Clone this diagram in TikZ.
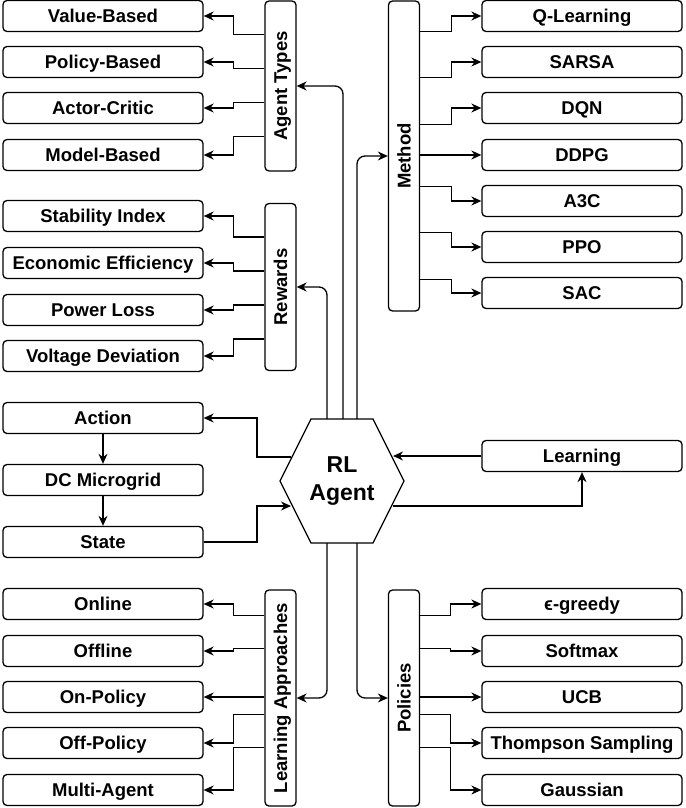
\documentclass[tikz,border=0pt]{standalone}
\usepackage{fontspec}
\setmainfont{Liberation Sans}
\usetikzlibrary{arrows.meta,shapes.geometric,calc}
\begin{document}
\begin{tikzpicture}[x=1pt,y=-1pt,
 fnt/.style={font=\bfseries\fontsize{18.5}{21}\selectfont},
 box/.style={draw,line width=1.3pt,rounded corners=4pt,minimum width=200pt,minimum height=31pt,fnt,inner sep=0pt,text height=13pt,text depth=0pt},
 vbox/.style={draw,line width=1.3pt,rounded corners=4pt,minimum width=31pt,inner sep=0pt},
 vt/.style={rotate=90,fnt,text height=13pt,text depth=0pt},
 ln/.style={line width=1.3pt},
 arr/.style={line width=1.3pt,-{Stealth[length=10pt,width=9pt]}},
 carr/.style={arr,rounded corners=8pt}]
\useasboundingbox (0,0) rectangle (685,808);
% left boxes
\foreach \n/\t/\y in {vb/Value-Based/16,pb/Policy-Based/62,ac/Actor-Critic/108,mb/Model-Based/155,
 si/Stability Index/216,ee/Economic Efficiency/263,pl/Power Loss/310,vd/Voltage Deviation/356,
 act/Action/418,dc/DC Microgrid/480,st/State/542,
 on/Online/604,off/Offline/651,onp/On-Policy/697,offp/Off-Policy/743,ma/Multi-Agent/790}
 \node[box] (\n) at (103,\y) {\t};
% right boxes
\foreach \n/\t/\y in {ql/Q-Learning/16,sa/SARSA/62,dqn/DQN/108,ddpg/DDPG/155,a3c/A3C/201,ppo/PPO/247,sac/SAC/293,
 lrn/Learning/456,eg/ϵ-greedy/604,sm/Softmax/651,ucb/UCB/697,ts/Thompson Sampling/743,ga/Gaussian/790}
 \node[box] (\n) at (582,\y) {\t};
% vertical boxes
\node[vbox,minimum height=170pt] (at) at (280.5,86) {};
\node[vt] at (at) {Agent Types};
\node[vbox,minimum height=167pt] (rw) at (280.5,287) {};
\node[vt] at (rw) {Rewards};
\node[vbox,minimum height=310pt] (me) at (404,156) {};
\node[vt] at (me) {Method};
\node[vbox,minimum height=216pt] (la) at (280.5,698) {};
\node[vt] at (la) {Learning Approaches};
\node[vbox,minimum height=216pt] (po) at (404,698) {};
\node[vt] at (po) {Policies};
% hexagon
\draw[ln] (280,481) -- (311,419) -- (373,419) -- (404,481) -- (373,543) -- (311,543) -- cycle;
\node[font=\bfseries\fontsize{23}{28}\selectfont,align=center] (rl) at (342,481) {RL\\Agent};
\coordinate (hL) at (291,457);
\coordinate (hLs) at (291,506);
\coordinate (hR) at (393,457);
\coordinate (hRs) at (393,506);
% left fan-outs
\foreach \b/\k/\t in {at/1/vb,at/2/pb,at/3/ac,at/4/mb,rw/1/si,rw/2/ee,rw/3/pl,rw/4/vd}
 \draw[arr] ([yshift=-\k*34pt]\b.north west) -- ++(-31,0) |- (\t.east);
\foreach \k/\t in {1/on,2/off,4/offp,5/ma}
 \draw[arr] ([yshift=-\k*33pt+7pt]la.north west) -- ++(-31,0) |- (\t.east);
\draw[arr] (la.west |- onp.east) -- (onp.east);
% right fan-outs
\foreach \y/\t in {32/ql,78/sa,125/dqn,187/a3c,233/ppo,280/sac}
 \draw[arr] ([yshift=1pt-\y pt]me.north east) -- ++(31,0) |- (\t.west);
\draw[arr] (me.east |- ddpg.west) -- (ddpg.west);
\foreach \k/\t in {1/eg,2/sm,4/ts,5/ga}
 \draw[arr] ([yshift=-\k*33pt+7pt]po.north east) -- ++(30,0) |- (\t.west);
\draw[arr] (po.east |- ucb.west) -- (ucb.west);
% hub connectors
\draw[carr] (343,419) |- (at.east);
\draw[carr] (327,419) |- (rw.east);
\draw[carr] (357,419) |- (me.west);
\draw[carr] (327,543) |- (la.east);
\draw[carr] (357,543) |- (po.west);
\draw[arr] (hL) -- (257,457) |- (act.east);
\draw[arr] (st.east) -- (257,542) |- (hLs);
\draw[arr] (lrn.west) -- (hR |- lrn.west);
\draw[arr] (hRs) -| (lrn.south);
\draw[arr] (act) -- (dc);
\draw[arr] (dc) -- (st);
\end{tikzpicture}
\end{document}
